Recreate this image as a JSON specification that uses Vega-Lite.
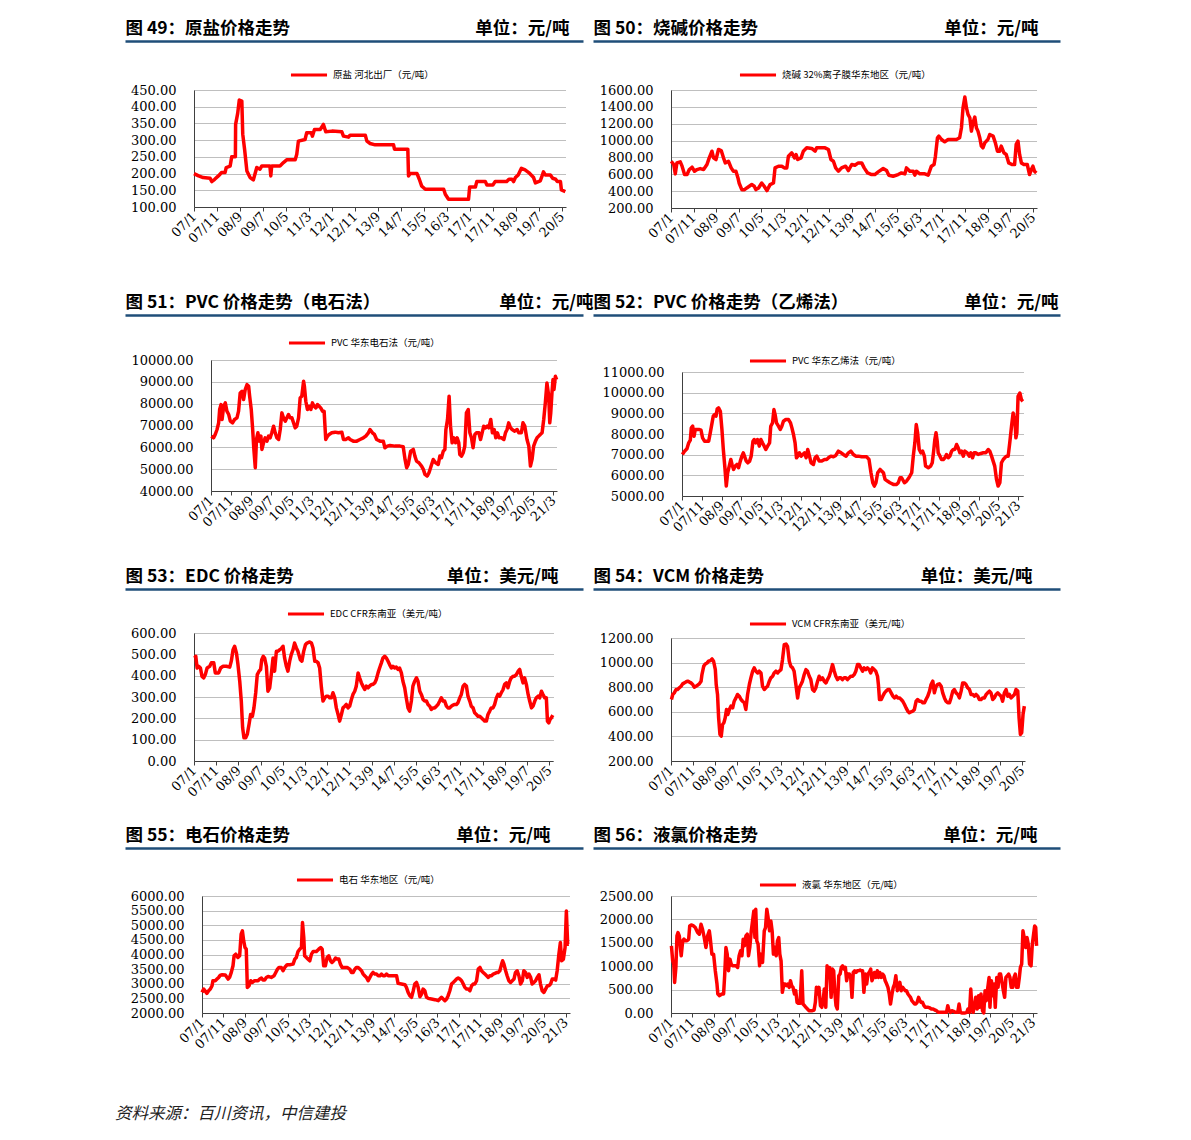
{
  "$schema": "https://vega.github.io/schema/vega-lite/v6.json",
  "background": "white",
  "padding": {"left": 115, "top": 19, "right": 5, "bottom": 5},
  "columns": 2,
  "align": "each",
  "bounds": "flush",
  "spacing": {"row": 0, "column": 10},
  "resolve": {"scale": {"color": "independent"}, "legend": {"color": "independent"}},
  "title": {"text": "资料来源：百川资讯，中信建投", "orient": "bottom", "anchor": "start", "frame": "group", "dx": -10, "offset": 55, "baseline": "top", "font": "Noto Sans CJK SC", "fontSize": 16.5, "fontWeight": "normal", "fontStyle": "italic", "color": "#222222"},
  "datasets": {
    "p49": [{"m":0,"v":200},{"m":2,"v":193},{"m":4,"v":188},{"m":7,"v":186},{"m":7.7,"v":176},{"m":9,"v":183},{"m":10.6,"v":193},{"m":12,"v":203},{"m":13.5,"v":203},{"m":14,"v":218},{"m":15.7,"v":222},{"m":16.4,"v":250},{"m":18,"v":250},{"m":18.1,"v":347},{"m":19,"v":380},{"m":19.7,"v":420},{"m":20.8,"v":417},{"m":21.2,"v":318},{"m":22,"v":273},{"m":23,"v":208},{"m":24.4,"v":188},{"m":25.8,"v":181},{"m":27.3,"v":218},{"m":28.7,"v":213},{"m":29.5,"v":223},{"m":33,"v":223},{"m":33.4,"v":193},{"m":33.8,"v":223},{"m":37.4,"v":223},{"m":38.9,"v":233},{"m":40.3,"v":241},{"m":44,"v":241},{"m":44.7,"v":258},{"m":45.4,"v":297},{"m":48.3,"v":302},{"m":49,"v":322},{"m":51,"v":322},{"m":51.5,"v":312},{"m":52.4,"v":332},{"m":54.9,"v":332},{"m":56.3,"v":347},{"m":57.3,"v":325},{"m":60,"v":327},{"m":64.3,"v":325},{"m":65,"v":312},{"m":67.2,"v":309},{"m":67.9,"v":315},{"m":74.5,"v":315},{"m":75.2,"v":297},{"m":76.6,"v":290},{"m":78.8,"v":286},{"m":86.8,"v":286},{"m":87.2,"v":273},{"m":93,"v":273},{"m":93.3,"v":193},{"m":94,"v":200},{"m":97,"v":200},{"m":98,"v":183},{"m":99,"v":163},{"m":100.6,"v":153},{"m":108.6,"v":153},{"m":109.3,"v":138},{"m":110.7,"v":123},{"m":119.4,"v":123},{"m":119.9,"v":160},{"m":122.4,"v":160},{"m":123,"v":176},{"m":126.7,"v":176},{"m":127.4,"v":166},{"m":130,"v":166},{"m":131,"v":176},{"m":136,"v":176},{"m":137,"v":183},{"m":138.3,"v":183},{"m":139,"v":176},{"m":139.8,"v":188},{"m":141,"v":196},{"m":142.4,"v":216},{"m":144,"v":211},{"m":145.6,"v":203},{"m":147.7,"v":188},{"m":148.5,"v":172},{"m":150.6,"v":178},{"m":151.4,"v":193},{"m":152,"v":205},{"m":152.8,"v":196},{"m":155,"v":196},{"m":156,"v":186},{"m":157.3,"v":183},{"m":158,"v":176},{"m":159.4,"v":176},{"m":159.8,"v":151},{"m":161.5,"v":146}],
    "p50": [{"m":0.1,"v":755},{"m":1.2,"v":716},{"m":1.9,"v":605},{"m":2.6,"v":735},{"m":4.1,"v":747},{"m":4.9,"v":696},{"m":6.0,"v":597},{"m":7.1,"v":597},{"m":8.1,"v":656},{"m":9.3,"v":684},{"m":10.4,"v":636},{"m":11.5,"v":656},{"m":12.9,"v":668},{"m":14.4,"v":656},{"m":15.9,"v":716},{"m":16.9,"v":795},{"m":18.1,"v":874},{"m":18.8,"v":795},{"m":19.9,"v":775},{"m":21.0,"v":894},{"m":22.2,"v":882},{"m":23.2,"v":795},{"m":24.0,"v":735},{"m":25.4,"v":755},{"m":26.6,"v":676},{"m":27.6,"v":636},{"m":28.7,"v":636},{"m":29.6,"v":557},{"m":30.1,"v":497},{"m":31.3,"v":418},{"m":32.5,"v":418},{"m":33.5,"v":438},{"m":34.6,"v":458},{"m":35.7,"v":478},{"m":36.8,"v":458},{"m":37.5,"v":418},{"m":38.7,"v":438},{"m":40.1,"v":497},{"m":41.2,"v":458},{"m":42.4,"v":406},{"m":43.8,"v":478},{"m":45.3,"v":497},{"m":46.0,"v":676},{"m":47.5,"v":696},{"m":49.0,"v":696},{"m":50.1,"v":676},{"m":51.2,"v":676},{"m":51.9,"v":815},{"m":53.4,"v":854},{"m":54.6,"v":795},{"m":55.3,"v":835},{"m":56.0,"v":775},{"m":57.5,"v":795},{"m":58.5,"v":874},{"m":60.0,"v":914},{"m":62.2,"v":906},{"m":63.7,"v":874},{"m":64.4,"v":914},{"m":68.1,"v":914},{"m":69.6,"v":894},{"m":70.7,"v":775},{"m":71.8,"v":755},{"m":72.8,"v":676},{"m":74.0,"v":636},{"m":75.4,"v":676},{"m":77.2,"v":696},{"m":78.4,"v":644},{"m":79.9,"v":716},{"m":81.3,"v":708},{"m":82.8,"v":735},{"m":84.3,"v":735},{"m":85.4,"v":676},{"m":86.9,"v":616},{"m":88.7,"v":597},{"m":90.1,"v":597},{"m":91.6,"v":628},{"m":93.8,"v":668},{"m":95.3,"v":644},{"m":96.3,"v":589},{"m":98.2,"v":577},{"m":100.4,"v":597},{"m":101.9,"v":616},{"m":103.4,"v":605},{"m":104.1,"v":676},{"m":105.6,"v":636},{"m":107.1,"v":636},{"m":107.8,"v":589},{"m":108.5,"v":636},{"m":110.0,"v":605},{"m":112.2,"v":605},{"m":113.7,"v":589},{"m":115.1,"v":696},{"m":116.3,"v":716},{"m":116.9,"v":815},{"m":117.8,"v":1033},{"m":118.4,"v":1053},{"m":119.6,"v":1013},{"m":121.0,"v":985},{"m":122.5,"v":1013},{"m":124.0,"v":1013},{"m":126.2,"v":1013},{"m":127.6,"v":1033},{"m":128.4,"v":1152},{"m":129.1,"v":1390},{"m":129.9,"v":1517},{"m":130.6,"v":1390},{"m":131.3,"v":1310},{"m":132.1,"v":1271},{"m":132.8,"v":1112},{"m":133.5,"v":1211},{"m":134.3,"v":1279},{"m":135.0,"v":1152},{"m":135.7,"v":1112},{"m":136.5,"v":1033},{"m":137.2,"v":934},{"m":137.9,"v":914},{"m":138.7,"v":973},{"m":140.1,"v":1013},{"m":140.9,"v":1072},{"m":142.4,"v":1053},{"m":143.4,"v":973},{"m":144.3,"v":874},{"m":145.3,"v":874},{"m":146.0,"v":934},{"m":147.2,"v":855},{"m":148.2,"v":835},{"m":149.3,"v":735},{"m":150.7,"v":716},{"m":151.9,"v":716},{"m":152.6,"v":954},{"m":153.4,"v":993},{"m":154.1,"v":835},{"m":154.9,"v":735},{"m":156.0,"v":716},{"m":157.5,"v":716},{"m":158.5,"v":597},{"m":159.3,"v":656},{"m":160.0,"v":696},{"m":160.7,"v":636},{"m":161.5,"v":616}],
    "p51": [{"m":0.2,"v":6512},{"m":1.3,"v":6436},{"m":2.1,"v":6589},{"m":3.0,"v":6817},{"m":3.8,"v":7122},{"m":4.3,"v":7731},{"m":5.0,"v":7959},{"m":5.5,"v":7274},{"m":6.3,"v":7883},{"m":7.1,"v":8035},{"m":7.9,"v":7655},{"m":8.8,"v":7502},{"m":9.6,"v":7198},{"m":10.7,"v":7122},{"m":11.7,"v":7274},{"m":12.9,"v":7350},{"m":13.7,"v":7655},{"m":14.5,"v":8492},{"m":15.4,"v":8568},{"m":16.2,"v":8188},{"m":17.0,"v":8645},{"m":17.9,"v":8873},{"m":18.7,"v":8797},{"m":19.2,"v":8340},{"m":20.0,"v":7731},{"m":20.7,"v":6817},{"m":21.3,"v":5903},{"m":22.0,"v":5066},{"m":22.6,"v":6360},{"m":23.3,"v":6665},{"m":24.0,"v":6284},{"m":24.8,"v":6512},{"m":25.3,"v":5903},{"m":26.1,"v":6208},{"m":26.9,"v":6436},{"m":27.8,"v":6284},{"m":28.6,"v":6512},{"m":29.4,"v":6436},{"m":30.2,"v":6665},{"m":31.1,"v":6969},{"m":31.9,"v":6665},{"m":32.7,"v":6436},{"m":33.6,"v":6360},{"m":34.4,"v":6817},{"m":35.2,"v":7578},{"m":36.0,"v":7350},{"m":36.9,"v":7198},{"m":37.7,"v":7350},{"m":38.5,"v":7502},{"m":39.3,"v":7350},{"m":40.2,"v":7350},{"m":41.0,"v":7122},{"m":41.8,"v":6893},{"m":42.6,"v":6969},{"m":43.5,"v":7350},{"m":44.3,"v":8264},{"m":45.1,"v":8340},{"m":46.0,"v":9025},{"m":46.4,"v":8797},{"m":47.1,"v":8112},{"m":47.9,"v":7731},{"m":48.8,"v":7883},{"m":49.6,"v":7731},{"m":50.4,"v":8035},{"m":51.2,"v":7883},{"m":52.1,"v":7807},{"m":52.9,"v":7959},{"m":53.7,"v":7883},{"m":54.5,"v":7807},{"m":55.4,"v":7655},{"m":56.2,"v":7655},{"m":57.0,"v":6360},{"m":57.9,"v":6512},{"m":58.7,"v":6589},{"m":60.0,"v":6665},{"m":61.7,"v":6695},{"m":63.3,"v":6665},{"m":65.0,"v":6695},{"m":65.8,"v":6360},{"m":66.9,"v":6360},{"m":68.3,"v":6436},{"m":69.1,"v":6360},{"m":70.7,"v":6284},{"m":72.4,"v":6284},{"m":74.0,"v":6360},{"m":75.7,"v":6436},{"m":76.9,"v":6512},{"m":78.2,"v":6665},{"m":79.0,"v":6817},{"m":80.2,"v":6665},{"m":81.2,"v":6589},{"m":82.3,"v":6360},{"m":84.0,"v":6284},{"m":85.6,"v":6284},{"m":86.4,"v":5979},{"m":87.6,"v":6056},{"m":88.9,"v":6086},{"m":91.4,"v":6056},{"m":93.9,"v":6056},{"m":95.5,"v":6025},{"m":96.4,"v":5446},{"m":97.2,"v":5066},{"m":98.0,"v":5218},{"m":99.2,"v":5827},{"m":100.5,"v":5903},{"m":101.3,"v":5599},{"m":102.1,"v":5370},{"m":103.3,"v":5294},{"m":104.6,"v":5142},{"m":105.5,"v":4989},{"m":106.3,"v":4761},{"m":107.4,"v":4685},{"m":108.3,"v":4837},{"m":109.1,"v":5066},{"m":110.4,"v":5446},{"m":111.6,"v":5294},{"m":112.9,"v":5218},{"m":113.7,"v":5599},{"m":114.5,"v":5523},{"m":115.4,"v":5827},{"m":116.2,"v":5903},{"m":116.7,"v":6817},{"m":117.5,"v":7274},{"m":118.3,"v":8340},{"m":119.0,"v":6969},{"m":119.8,"v":6208},{"m":120.7,"v":6436},{"m":121.5,"v":6208},{"m":122.3,"v":6436},{"m":123.1,"v":6208},{"m":123.6,"v":5675},{"m":124.5,"v":5599},{"m":125.3,"v":5751},{"m":126.1,"v":6056},{"m":126.9,"v":7578},{"m":127.8,"v":7731},{"m":128.6,"v":6665},{"m":129.4,"v":6436},{"m":130.2,"v":5979},{"m":131.1,"v":6589},{"m":131.9,"v":6665},{"m":133.1,"v":6665},{"m":133.9,"v":6360},{"m":134.7,"v":6665},{"m":135.5,"v":6969},{"m":136.4,"v":6893},{"m":137.2,"v":6969},{"m":138.0,"v":6893},{"m":139.0,"v":7274},{"m":139.8,"v":6665},{"m":140.7,"v":6817},{"m":141.5,"v":6436},{"m":142.3,"v":6665},{"m":143.1,"v":6436},{"m":144.3,"v":6436},{"m":145.5,"v":6360},{"m":146.3,"v":6665},{"m":147.1,"v":6817},{"m":147.9,"v":7122},{"m":148.8,"v":6893},{"m":149.6,"v":6817},{"m":150.9,"v":6741},{"m":152.1,"v":6817},{"m":152.9,"v":6665},{"m":154.2,"v":6665},{"m":155.0,"v":7122},{"m":155.9,"v":6969},{"m":157.0,"v":6360},{"m":157.9,"v":6056},{"m":158.7,"v":5142},{"m":159.5,"v":5446},{"m":160.3,"v":6056},{"m":161.2,"v":6284},{"m":162.0,"v":6436},{"m":162.8,"v":6512},{"m":163.6,"v":6589},{"m":164.5,"v":6665},{"m":165.3,"v":7274},{"m":166.1,"v":8035},{"m":166.9,"v":8949},{"m":167.8,"v":8340},{"m":168.3,"v":7122},{"m":168.8,"v":7578},{"m":169.4,"v":8492},{"m":169.9,"v":9101},{"m":170.4,"v":8645},{"m":171.1,"v":9254},{"m":171.7,"v":9101}],
    "p52": [{"m":0.2,"v":7010},{"m":1.3,"v":7171},{"m":2.5,"v":7283},{"m":3.4,"v":7573},{"m":4.2,"v":7702},{"m":4.7,"v":8297},{"m":5.4,"v":8377},{"m":6.1,"v":7895},{"m":6.7,"v":8217},{"m":7.7,"v":8217},{"m":8.8,"v":8217},{"m":9.6,"v":8184},{"m":10.4,"v":7814},{"m":11.4,"v":7653},{"m":12.5,"v":7653},{"m":13.5,"v":7653},{"m":14.3,"v":8056},{"m":15.2,"v":8538},{"m":15.8,"v":8860},{"m":16.5,"v":8941},{"m":17.2,"v":8860},{"m":17.8,"v":9214},{"m":18.5,"v":9262},{"m":19.4,"v":9101},{"m":20.2,"v":8217},{"m":20.9,"v":7251},{"m":21.7,"v":6366},{"m":22.4,"v":5481},{"m":23.1,"v":6125},{"m":23.9,"v":6446},{"m":24.7,"v":6768},{"m":25.3,"v":6527},{"m":26.1,"v":6286},{"m":26.9,"v":6446},{"m":27.8,"v":6527},{"m":28.6,"v":6366},{"m":29.5,"v":6688},{"m":30.3,"v":6929},{"m":31.0,"v":7090},{"m":31.6,"v":6929},{"m":32.5,"v":6688},{"m":33.3,"v":6607},{"m":34.2,"v":6688},{"m":35.0,"v":6929},{"m":35.9,"v":7653},{"m":36.5,"v":7734},{"m":37.4,"v":7573},{"m":38.2,"v":7734},{"m":39.1,"v":7412},{"m":39.9,"v":7734},{"m":40.7,"v":7573},{"m":41.6,"v":7412},{"m":42.4,"v":7251},{"m":43.3,"v":7412},{"m":44.3,"v":7573},{"m":44.9,"v":8377},{"m":45.8,"v":8538},{"m":46.5,"v":9182},{"m":47.1,"v":8941},{"m":47.8,"v":8538},{"m":48.8,"v":8377},{"m":49.7,"v":8217},{"m":50.5,"v":8377},{"m":51.3,"v":8619},{"m":52.5,"v":8699},{"m":53.9,"v":8699},{"m":54.9,"v":8538},{"m":55.6,"v":8297},{"m":56.4,"v":7975},{"m":57.2,"v":7573},{"m":57.9,"v":6849},{"m":58.6,"v":6929},{"m":59.4,"v":7090},{"m":60.3,"v":6929},{"m":61.1,"v":7010},{"m":62.0,"v":7090},{"m":62.8,"v":6849},{"m":63.6,"v":7251},{"m":64.5,"v":6929},{"m":65.3,"v":6607},{"m":66.5,"v":6527},{"m":67.3,"v":6849},{"m":68.2,"v":6929},{"m":69.4,"v":6688},{"m":70.7,"v":6688},{"m":72.1,"v":6768},{"m":73.2,"v":6768},{"m":74.1,"v":6849},{"m":75.3,"v":6929},{"m":76.6,"v":6897},{"m":77.8,"v":6961},{"m":79.1,"v":7171},{"m":80.5,"v":7090},{"m":81.6,"v":7010},{"m":83.0,"v":6929},{"m":84.2,"v":7090},{"m":85.4,"v":7171},{"m":86.7,"v":7010},{"m":87.9,"v":6929},{"m":89.2,"v":6929},{"m":90.9,"v":6897},{"m":93.4,"v":6897},{"m":94.6,"v":6768},{"m":95.6,"v":6125},{"m":96.5,"v":5642},{"m":97.3,"v":5481},{"m":98.1,"v":5642},{"m":99.0,"v":6125},{"m":100.2,"v":6286},{"m":101.0,"v":6205},{"m":101.9,"v":6125},{"m":102.7,"v":5803},{"m":103.9,"v":5722},{"m":105.2,"v":5642},{"m":106.9,"v":5562},{"m":108.6,"v":5562},{"m":109.4,"v":5642},{"m":110.3,"v":5883},{"m":111.1,"v":5883},{"m":112.5,"v":5642},{"m":113.6,"v":5722},{"m":114.8,"v":5883},{"m":116.2,"v":6125},{"m":117.0,"v":6929},{"m":117.8,"v":7573},{"m":118.5,"v":8458},{"m":119.2,"v":8056},{"m":120.0,"v":7251},{"m":120.9,"v":7090},{"m":121.7,"v":7171},{"m":122.6,"v":6929},{"m":123.2,"v":6446},{"m":124.6,"v":6366},{"m":125.8,"v":6446},{"m":126.6,"v":6607},{"m":127.3,"v":7171},{"m":127.9,"v":7734},{"m":128.5,"v":8056},{"m":129.1,"v":7653},{"m":129.6,"v":7090},{"m":130.5,"v":6929},{"m":131.3,"v":6768},{"m":132.2,"v":6768},{"m":133.0,"v":6849},{"m":133.8,"v":7010},{"m":134.7,"v":6849},{"m":135.5,"v":6929},{"m":136.4,"v":7171},{"m":137.2,"v":7251},{"m":138.0,"v":7251},{"m":138.9,"v":7493},{"m":139.7,"v":7332},{"m":140.6,"v":7090},{"m":141.4,"v":7171},{"m":142.3,"v":6929},{"m":143.1,"v":7171},{"m":144.3,"v":7090},{"m":145.3,"v":6929},{"m":146.1,"v":7090},{"m":147.0,"v":6849},{"m":147.8,"v":7090},{"m":148.7,"v":7090},{"m":149.8,"v":7010},{"m":151.2,"v":7058},{"m":152.4,"v":7090},{"m":153.7,"v":7090},{"m":154.9,"v":7251},{"m":155.7,"v":7171},{"m":156.6,"v":6929},{"m":157.4,"v":6688},{"m":158.2,"v":6446},{"m":159.1,"v":5803},{"m":159.9,"v":5481},{"m":160.8,"v":5642},{"m":161.6,"v":6607},{"m":162.5,"v":6768},{"m":163.3,"v":6849},{"m":164.1,"v":6929},{"m":165.0,"v":6929},{"m":165.8,"v":7573},{"m":166.7,"v":8377},{"m":167.5,"v":9021},{"m":168.4,"v":8699},{"m":168.9,"v":7814},{"m":169.4,"v":8056},{"m":170.0,"v":9825},{"m":170.9,"v":9986},{"m":171.7,"v":9664},{"m":172.4,"v":9584}],
    "p53": [{"m":0.3,"v":483},{"m":0.8,"v":491},{"m":1.4,"v":436},{"m":2.1,"v":444},{"m":2.9,"v":436},{"m":3.6,"v":397},{"m":4.4,"v":390},{"m":5.1,"v":405},{"m":5.9,"v":436},{"m":7.1,"v":444},{"m":7.8,"v":460},{"m":8.9,"v":460},{"m":9.6,"v":413},{"m":10.4,"v":413},{"m":11.1,"v":413},{"m":12.0,"v":436},{"m":13.1,"v":444},{"m":14.6,"v":444},{"m":16.1,"v":440},{"m":16.8,"v":468},{"m":17.6,"v":522},{"m":18.3,"v":538},{"m":19.1,"v":507},{"m":19.8,"v":452},{"m":20.6,"v":374},{"m":21.3,"v":281},{"m":21.9,"v":156},{"m":22.5,"v":109},{"m":23.3,"v":109},{"m":24.0,"v":125},{"m":24.8,"v":172},{"m":25.5,"v":218},{"m":26.3,"v":210},{"m":27.0,"v":249},{"m":27.8,"v":320},{"m":28.5,"v":405},{"m":29.3,"v":421},{"m":30.0,"v":429},{"m":30.5,"v":475},{"m":31.2,"v":491},{"m":31.8,"v":483},{"m":32.6,"v":444},{"m":33.3,"v":327},{"m":34.1,"v":343},{"m":34.8,"v":405},{"m":35.6,"v":483},{"m":36.3,"v":421},{"m":37.1,"v":514},{"m":37.8,"v":514},{"m":38.6,"v":522},{"m":39.3,"v":527},{"m":40.1,"v":538},{"m":40.8,"v":483},{"m":41.6,"v":444},{"m":42.3,"v":421},{"m":43.1,"v":468},{"m":43.8,"v":499},{"m":44.6,"v":522},{"m":45.3,"v":553},{"m":46.1,"v":530},{"m":46.8,"v":514},{"m":47.9,"v":475},{"m":48.6,"v":468},{"m":49.4,"v":514},{"m":50.2,"v":545},{"m":50.9,"v":553},{"m":52.1,"v":558},{"m":52.9,"v":553},{"m":53.6,"v":530},{"m":54.4,"v":468},{"m":55.1,"v":468},{"m":55.9,"v":460},{"m":56.6,"v":436},{"m":57.4,"v":343},{"m":58.1,"v":281},{"m":58.9,"v":296},{"m":59.6,"v":304},{"m":60.4,"v":304},{"m":61.1,"v":296},{"m":61.9,"v":296},{"m":62.6,"v":320},{"m":63.4,"v":296},{"m":64.1,"v":249},{"m":64.9,"v":218},{"m":65.6,"v":187},{"m":66.4,"v":218},{"m":67.1,"v":249},{"m":67.9,"v":257},{"m":68.6,"v":265},{"m":69.4,"v":249},{"m":70.1,"v":257},{"m":70.9,"v":288},{"m":71.6,"v":312},{"m":72.4,"v":327},{"m":73.1,"v":351},{"m":73.9,"v":413},{"m":74.6,"v":390},{"m":75.4,"v":366},{"m":76.1,"v":351},{"m":76.9,"v":335},{"m":77.6,"v":351},{"m":78.4,"v":343},{"m":79.1,"v":351},{"m":79.9,"v":359},{"m":80.6,"v":359},{"m":81.4,"v":366},{"m":82.1,"v":382},{"m":82.9,"v":413},{"m":83.6,"v":436},{"m":84.4,"v":460},{"m":85.1,"v":483},{"m":85.9,"v":491},{"m":86.6,"v":483},{"m":87.4,"v":468},{"m":88.1,"v":452},{"m":88.9,"v":436},{"m":89.6,"v":444},{"m":90.4,"v":436},{"m":91.1,"v":440},{"m":91.9,"v":429},{"m":92.6,"v":436},{"m":93.4,"v":413},{"m":94.1,"v":374},{"m":94.9,"v":343},{"m":95.6,"v":296},{"m":96.4,"v":249},{"m":97.1,"v":234},{"m":97.9,"v":281},{"m":98.6,"v":351},{"m":99.4,"v":374},{"m":100.2,"v":390},{"m":100.9,"v":374},{"m":101.7,"v":327},{"m":102.4,"v":312},{"m":103.2,"v":288},{"m":103.9,"v":281},{"m":104.7,"v":281},{"m":105.4,"v":265},{"m":106.2,"v":257},{"m":106.9,"v":242},{"m":107.7,"v":249},{"m":108.4,"v":249},{"m":109.2,"v":257},{"m":109.9,"v":265},{"m":110.7,"v":281},{"m":111.4,"v":296},{"m":112.2,"v":281},{"m":112.9,"v":281},{"m":113.7,"v":257},{"m":114.4,"v":249},{"m":115.2,"v":249},{"m":115.9,"v":257},{"m":116.7,"v":262},{"m":117.4,"v":265},{"m":118.2,"v":265},{"m":118.9,"v":273},{"m":119.7,"v":296},{"m":120.4,"v":312},{"m":121.2,"v":351},{"m":121.9,"v":359},{"m":122.7,"v":351},{"m":123.4,"v":304},{"m":124.2,"v":281},{"m":124.9,"v":257},{"m":125.7,"v":249},{"m":126.4,"v":226},{"m":127.2,"v":218},{"m":127.9,"v":210},{"m":128.7,"v":210},{"m":129.4,"v":203},{"m":130.2,"v":195},{"m":130.9,"v":187},{"m":131.7,"v":187},{"m":132.4,"v":218},{"m":133.2,"v":234},{"m":133.9,"v":249},{"m":134.7,"v":249},{"m":135.4,"v":265},{"m":136.2,"v":296},{"m":136.9,"v":312},{"m":137.7,"v":304},{"m":138.4,"v":320},{"m":139.2,"v":335},{"m":139.9,"v":359},{"m":140.7,"v":366},{"m":141.4,"v":343},{"m":142.2,"v":374},{"m":142.9,"v":390},{"m":143.7,"v":397},{"m":144.4,"v":397},{"m":145.2,"v":405},{"m":146.0,"v":421},{"m":146.7,"v":429},{"m":147.4,"v":397},{"m":148.2,"v":366},{"m":148.9,"v":390},{"m":149.7,"v":359},{"m":150.5,"v":312},{"m":151.2,"v":281},{"m":152.0,"v":249},{"m":152.7,"v":257},{"m":153.5,"v":281},{"m":154.2,"v":296},{"m":155.0,"v":304},{"m":155.7,"v":296},{"m":156.5,"v":327},{"m":157.2,"v":312},{"m":158.0,"v":296},{"m":158.7,"v":296},{"m":159.2,"v":187},{"m":159.8,"v":179},{"m":160.4,"v":195},{"m":161.0,"v":203},{"m":161.6,"v":215}],
    "p54": [{"m":0.2,"v":700},{"m":0.8,"v":741},{"m":1.5,"v":754},{"m":2.3,"v":781},{"m":3.0,"v":781},{"m":3.8,"v":795},{"m":4.6,"v":808},{"m":5.3,"v":827},{"m":6.1,"v":835},{"m":6.8,"v":843},{"m":7.6,"v":849},{"m":8.3,"v":843},{"m":9.1,"v":835},{"m":9.9,"v":822},{"m":10.6,"v":800},{"m":11.4,"v":808},{"m":12.1,"v":816},{"m":12.9,"v":827},{"m":13.7,"v":849},{"m":14.1,"v":903},{"m":14.9,"v":970},{"m":15.6,"v":989},{"m":16.4,"v":997},{"m":17.1,"v":1011},{"m":17.9,"v":1016},{"m":18.7,"v":1030},{"m":19.4,"v":1011},{"m":20.2,"v":943},{"m":20.6,"v":822},{"m":21.2,"v":741},{"m":21.7,"v":551},{"m":22.3,"v":416},{"m":22.9,"v":403},{"m":23.5,"v":497},{"m":24.1,"v":511},{"m":24.7,"v":551},{"m":25.3,"v":619},{"m":25.9,"v":578},{"m":26.6,"v":619},{"m":27.3,"v":646},{"m":28.1,"v":632},{"m":28.8,"v":686},{"m":29.6,"v":713},{"m":30.3,"v":741},{"m":31.1,"v":727},{"m":31.9,"v":700},{"m":32.6,"v":686},{"m":33.4,"v":673},{"m":34.1,"v":619},{"m":34.9,"v":741},{"m":35.7,"v":822},{"m":36.4,"v":876},{"m":37.2,"v":930},{"m":37.9,"v":957},{"m":38.7,"v":930},{"m":39.5,"v":916},{"m":40.2,"v":930},{"m":41.0,"v":916},{"m":41.7,"v":808},{"m":42.5,"v":781},{"m":43.2,"v":795},{"m":44.0,"v":808},{"m":44.8,"v":849},{"m":45.5,"v":876},{"m":46.3,"v":889},{"m":47.0,"v":916},{"m":47.8,"v":930},{"m":48.6,"v":916},{"m":49.3,"v":930},{"m":50.1,"v":943},{"m":50.8,"v":1024},{"m":51.6,"v":1146},{"m":52.4,"v":1151},{"m":53.1,"v":1132},{"m":53.9,"v":1011},{"m":54.6,"v":970},{"m":55.4,"v":957},{"m":56.1,"v":930},{"m":56.9,"v":822},{"m":57.7,"v":713},{"m":58.4,"v":795},{"m":59.2,"v":822},{"m":59.9,"v":849},{"m":60.7,"v":903},{"m":61.5,"v":943},{"m":62.2,"v":930},{"m":63.0,"v":889},{"m":63.7,"v":862},{"m":64.5,"v":781},{"m":65.2,"v":768},{"m":66.0,"v":795},{"m":66.8,"v":849},{"m":67.5,"v":889},{"m":68.3,"v":862},{"m":69.0,"v":876},{"m":69.8,"v":849},{"m":70.6,"v":835},{"m":71.3,"v":862},{"m":72.1,"v":889},{"m":72.8,"v":930},{"m":73.6,"v":984},{"m":74.4,"v":930},{"m":75.1,"v":889},{"m":75.9,"v":862},{"m":76.6,"v":876},{"m":77.4,"v":876},{"m":78.1,"v":862},{"m":78.9,"v":876},{"m":79.7,"v":876},{"m":80.4,"v":862},{"m":81.2,"v":876},{"m":81.9,"v":889},{"m":82.7,"v":889},{"m":83.5,"v":903},{"m":84.2,"v":930},{"m":85.0,"v":984},{"m":85.7,"v":984},{"m":86.5,"v":957},{"m":87.3,"v":930},{"m":88.0,"v":957},{"m":88.8,"v":943},{"m":89.5,"v":957},{"m":90.3,"v":943},{"m":91.0,"v":916},{"m":91.8,"v":957},{"m":92.6,"v":943},{"m":93.3,"v":930},{"m":94.1,"v":889},{"m":94.5,"v":822},{"m":95.0,"v":700},{"m":95.8,"v":700},{"m":96.5,"v":727},{"m":97.3,"v":754},{"m":98.0,"v":768},{"m":98.8,"v":781},{"m":99.5,"v":781},{"m":100.3,"v":754},{"m":101.1,"v":727},{"m":101.8,"v":713},{"m":102.6,"v":727},{"m":103.3,"v":713},{"m":104.1,"v":713},{"m":104.9,"v":700},{"m":105.6,"v":686},{"m":106.4,"v":659},{"m":107.1,"v":632},{"m":107.9,"v":605},{"m":108.6,"v":592},{"m":109.4,"v":600},{"m":110.2,"v":605},{"m":110.9,"v":619},{"m":111.7,"v":686},{"m":112.4,"v":700},{"m":113.2,"v":686},{"m":114.0,"v":686},{"m":114.7,"v":673},{"m":115.5,"v":673},{"m":116.2,"v":700},{"m":117.0,"v":727},{"m":117.8,"v":768},{"m":118.5,"v":822},{"m":119.3,"v":849},{"m":120.0,"v":754},{"m":120.8,"v":808},{"m":121.5,"v":822},{"m":122.3,"v":827},{"m":123.1,"v":808},{"m":123.8,"v":754},{"m":124.6,"v":713},{"m":125.3,"v":686},{"m":126.1,"v":673},{"m":126.9,"v":673},{"m":127.6,"v":713},{"m":128.4,"v":768},{"m":129.1,"v":781},{"m":129.9,"v":754},{"m":130.7,"v":741},{"m":131.4,"v":713},{"m":132.2,"v":768},{"m":132.9,"v":835},{"m":133.7,"v":835},{"m":134.4,"v":822},{"m":135.2,"v":795},{"m":136.0,"v":781},{"m":136.7,"v":741},{"m":137.5,"v":741},{"m":138.2,"v":727},{"m":139.0,"v":741},{"m":139.8,"v":727},{"m":140.5,"v":700},{"m":141.3,"v":700},{"m":142.0,"v":713},{"m":142.8,"v":713},{"m":143.6,"v":741},{"m":144.3,"v":754},{"m":145.1,"v":768},{"m":145.8,"v":754},{"m":146.6,"v":700},{"m":147.3,"v":713},{"m":148.1,"v":741},{"m":148.9,"v":754},{"m":149.6,"v":741},{"m":150.4,"v":727},{"m":151.1,"v":686},{"m":151.9,"v":754},{"m":152.7,"v":781},{"m":153.4,"v":727},{"m":154.2,"v":741},{"m":154.9,"v":713},{"m":155.7,"v":727},{"m":156.5,"v":741},{"m":157.2,"v":781},{"m":158.0,"v":768},{"m":158.6,"v":551},{"m":159.2,"v":416},{"m":159.8,"v":430},{"m":160.4,"v":578},{"m":161.0,"v":646}],
    "p55": [{"m":0,"v":2705},{"m":0.8,"v":2818},{"m":1.6,"v":2739},{"m":2.3,"v":2671},{"m":3.1,"v":2762},{"m":3.9,"v":2818},{"m":4.7,"v":2932},{"m":5.1,"v":3103},{"m":6.2,"v":3103},{"m":7.0,"v":3160},{"m":7.8,"v":3217},{"m":8.6,"v":3296},{"m":9.4,"v":3308},{"m":10.9,"v":3296},{"m":12.2,"v":3160},{"m":12.9,"v":3217},{"m":13.7,"v":3387},{"m":14.5,"v":3614},{"m":15.0,"v":3955},{"m":15.8,"v":4012},{"m":16.8,"v":3898},{"m":17.6,"v":3955},{"m":18.3,"v":4694},{"m":18.9,"v":4807},{"m":19.5,"v":4466},{"m":20.1,"v":4239},{"m":20.7,"v":4182},{"m":21.2,"v":2876},{"m":22.0,"v":2932},{"m":22.8,"v":3103},{"m":23.6,"v":3046},{"m":24.6,"v":3103},{"m":26.2,"v":3103},{"m":27.0,"v":3160},{"m":27.8,"v":3194},{"m":28.5,"v":3126},{"m":29.3,"v":3126},{"m":30.1,"v":3217},{"m":30.9,"v":3251},{"m":32.4,"v":3217},{"m":33.7,"v":3274},{"m":34.5,"v":3387},{"m":35.3,"v":3501},{"m":36.0,"v":3558},{"m":37.1,"v":3558},{"m":37.9,"v":3444},{"m":38.7,"v":3558},{"m":39.8,"v":3649},{"m":41.0,"v":3649},{"m":42.6,"v":3671},{"m":43.4,"v":3842},{"m":44.1,"v":3898},{"m":44.9,"v":4103},{"m":45.7,"v":4182},{"m":46.5,"v":4239},{"m":47.0,"v":5091},{"m":47.6,"v":4580},{"m":48.0,"v":3955},{"m":48.8,"v":3898},{"m":49.6,"v":3842},{"m":50.4,"v":3785},{"m":51.2,"v":4012},{"m":52.0,"v":4103},{"m":53.5,"v":4103},{"m":54.6,"v":4182},{"m":55.5,"v":4239},{"m":56.2,"v":4182},{"m":56.9,"v":3614},{"m":57.7,"v":3614},{"m":58.5,"v":3898},{"m":59.3,"v":3955},{"m":60.1,"v":3785},{"m":60.8,"v":3728},{"m":61.6,"v":3785},{"m":62.4,"v":3876},{"m":63.2,"v":3842},{"m":64.0,"v":3842},{"m":64.7,"v":3671},{"m":65.5,"v":3558},{"m":66.8,"v":3558},{"m":67.9,"v":3558},{"m":69.1,"v":3501},{"m":69.9,"v":3387},{"m":70.7,"v":3387},{"m":71.5,"v":3501},{"m":72.2,"v":3558},{"m":73.0,"v":3558},{"m":73.8,"v":3501},{"m":74.6,"v":3444},{"m":75.4,"v":3330},{"m":76.1,"v":3274},{"m":76.9,"v":3217},{"m":77.7,"v":3103},{"m":78.5,"v":3217},{"m":79.3,"v":3330},{"m":80.0,"v":3387},{"m":80.8,"v":3330},{"m":81.6,"v":3330},{"m":82.4,"v":3274},{"m":83.2,"v":3274},{"m":83.9,"v":3330},{"m":84.7,"v":3274},{"m":85.5,"v":3274},{"m":86.3,"v":3330},{"m":87.1,"v":3274},{"m":87.8,"v":3274},{"m":88.6,"v":3274},{"m":90.2,"v":3274},{"m":91.0,"v":3274},{"m":91.7,"v":3012},{"m":93.3,"v":2989},{"m":94.9,"v":2967},{"m":95.6,"v":2876},{"m":96.4,"v":2705},{"m":97.2,"v":2592},{"m":98.0,"v":2535},{"m":98.8,"v":2762},{"m":99.5,"v":2989},{"m":100.3,"v":3046},{"m":101.1,"v":2876},{"m":101.9,"v":2558},{"m":102.7,"v":2648},{"m":103.4,"v":2818},{"m":104.2,"v":2762},{"m":105.0,"v":2535},{"m":105.8,"v":2501},{"m":107.3,"v":2478},{"m":108.9,"v":2456},{"m":110.5,"v":2422},{"m":111.2,"v":2478},{"m":112.0,"v":2535},{"m":112.8,"v":2478},{"m":113.6,"v":2422},{"m":114.4,"v":2478},{"m":115.1,"v":2592},{"m":115.9,"v":2762},{"m":116.7,"v":2989},{"m":117.5,"v":3046},{"m":118.3,"v":3103},{"m":119.0,"v":3160},{"m":119.8,"v":3194},{"m":120.6,"v":3160},{"m":121.4,"v":3103},{"m":122.2,"v":2989},{"m":122.9,"v":2876},{"m":123.7,"v":2818},{"m":124.5,"v":2818},{"m":125.3,"v":2762},{"m":126.1,"v":2932},{"m":126.8,"v":2989},{"m":127.6,"v":2989},{"m":128.4,"v":3103},{"m":129.2,"v":3501},{"m":130.0,"v":3558},{"m":130.7,"v":3444},{"m":131.5,"v":3387},{"m":132.3,"v":3330},{"m":133.1,"v":3274},{"m":133.9,"v":3217},{"m":134.6,"v":3274},{"m":135.4,"v":3274},{"m":136.2,"v":3330},{"m":137.0,"v":3353},{"m":137.8,"v":3387},{"m":138.5,"v":3387},{"m":139.3,"v":3444},{"m":140.1,"v":3671},{"m":140.6,"v":3785},{"m":141.2,"v":3671},{"m":142.0,"v":3444},{"m":142.7,"v":3274},{"m":143.5,"v":3103},{"m":144.3,"v":3046},{"m":145.1,"v":3103},{"m":145.9,"v":3160},{"m":146.6,"v":3387},{"m":147.4,"v":3444},{"m":148.2,"v":3274},{"m":149.0,"v":2989},{"m":149.8,"v":3103},{"m":150.5,"v":3444},{"m":151.3,"v":3387},{"m":152.1,"v":3217},{"m":152.9,"v":3330},{"m":153.7,"v":3217},{"m":154.4,"v":2989},{"m":155.2,"v":3046},{"m":156.0,"v":3103},{"m":156.8,"v":3217},{"m":157.6,"v":3308},{"m":158.3,"v":2989},{"m":159.1,"v":2762},{"m":159.9,"v":2705},{"m":160.7,"v":2818},{"m":161.5,"v":2932},{"m":162.2,"v":2932},{"m":163.0,"v":2989},{"m":163.8,"v":3160},{"m":164.6,"v":3160},{"m":165.4,"v":3126},{"m":166.1,"v":3444},{"m":166.9,"v":4012},{"m":167.6,"v":4410},{"m":168.2,"v":3785},{"m":169.0,"v":3842},{"m":169.8,"v":4239},{"m":170.4,"v":5489},{"m":171.0,"v":4353},{"m":171.6,"v":4353}],
    "p56": [{"m":0.2,"v":1435},{"m":0.8,"v":1115},{"m":1.3,"v":1044},{"m":1.7,"v":654},{"m":2.3,"v":974},{"m":2.8,"v":1648},{"m":3.3,"v":1719},{"m":3.9,"v":1648},{"m":4.4,"v":1400},{"m":4.8,"v":1222},{"m":5.5,"v":1542},{"m":6.1,"v":1577},{"m":6.7,"v":1542},{"m":7.5,"v":1542},{"m":8.3,"v":1577},{"m":8.8,"v":1861},{"m":9.5,"v":1882},{"m":10.6,"v":1861},{"m":11.4,"v":1826},{"m":12.5,"v":1719},{"m":13.3,"v":1684},{"m":14.1,"v":1897},{"m":14.8,"v":1790},{"m":15.6,"v":1613},{"m":16.4,"v":1400},{"m":17.2,"v":1648},{"m":18.0,"v":1755},{"m":18.4,"v":1613},{"m":19.2,"v":1258},{"m":20.0,"v":1258},{"m":20.8,"v":903},{"m":21.6,"v":619},{"m":22.0,"v":406},{"m":22.8,"v":370},{"m":23.9,"v":406},{"m":24.7,"v":406},{"m":25.2,"v":796},{"m":25.8,"v":1400},{"m":26.4,"v":1258},{"m":27.0,"v":903},{"m":27.7,"v":1151},{"m":28.3,"v":1044},{"m":28.9,"v":1009},{"m":29.7,"v":1009},{"m":30.5,"v":1009},{"m":31.3,"v":974},{"m":32.0,"v":1222},{"m":32.7,"v":1329},{"m":33.3,"v":1222},{"m":33.9,"v":1577},{"m":34.5,"v":1435},{"m":35.2,"v":1648},{"m":35.8,"v":1684},{"m":36.4,"v":1222},{"m":37.0,"v":1400},{"m":37.7,"v":1755},{"m":38.3,"v":1968},{"m":38.9,"v":2180},{"m":39.4,"v":1613},{"m":39.8,"v":2216},{"m":40.3,"v":1542},{"m":40.9,"v":1471},{"m":41.6,"v":1009},{"m":42.2,"v":1258},{"m":43.0,"v":1080},{"m":43.8,"v":1755},{"m":44.4,"v":1826},{"m":45.0,"v":2216},{"m":45.6,"v":2038},{"m":46.3,"v":1755},{"m":46.9,"v":1968},{"m":47.5,"v":1755},{"m":48.1,"v":1258},{"m":48.8,"v":1400},{"m":49.4,"v":1222},{"m":50.0,"v":1542},{"m":50.6,"v":1613},{"m":51.1,"v":1258},{"m":51.7,"v":1115},{"m":52.3,"v":441},{"m":53.0,"v":619},{"m":53.6,"v":619},{"m":54.2,"v":583},{"m":54.8,"v":619},{"m":55.5,"v":548},{"m":56.1,"v":690},{"m":56.7,"v":583},{"m":57.3,"v":548},{"m":58.0,"v":406},{"m":58.6,"v":477},{"m":59.2,"v":228},{"m":59.8,"v":207},{"m":60.6,"v":207},{"m":61.4,"v":903},{"m":62.0,"v":193},{"m":62.7,"v":157},{"m":63.3,"v":122},{"m":64.1,"v":86},{"m":64.8,"v":50},{"m":65.6,"v":50},{"m":66.4,"v":50},{"m":67.2,"v":64},{"m":67.8,"v":228},{"m":68.3,"v":548},{"m":68.9,"v":406},{"m":69.5,"v":548},{"m":70.2,"v":157},{"m":70.8,"v":122},{"m":71.4,"v":228},{"m":72.0,"v":512},{"m":72.7,"v":122},{"m":73.3,"v":1009},{"m":73.9,"v":760},{"m":74.5,"v":974},{"m":75.2,"v":335},{"m":75.8,"v":938},{"m":76.4,"v":903},{"m":77.0,"v":406},{"m":77.5,"v":157},{"m":78.1,"v":86},{"m":78.8,"v":796},{"m":79.4,"v":832},{"m":80.0,"v":974},{"m":80.6,"v":1009},{"m":81.3,"v":938},{"m":81.9,"v":974},{"m":82.5,"v":690},{"m":83.1,"v":832},{"m":83.8,"v":832},{"m":84.4,"v":760},{"m":85.0,"v":335},{"m":85.6,"v":867},{"m":86.3,"v":903},{"m":86.9,"v":867},{"m":87.5,"v":903},{"m":88.1,"v":903},{"m":88.8,"v":917},{"m":89.4,"v":903},{"m":90.0,"v":903},{"m":90.6,"v":441},{"m":91.3,"v":832},{"m":91.9,"v":619},{"m":92.5,"v":832},{"m":93.1,"v":867},{"m":93.8,"v":938},{"m":94.4,"v":690},{"m":95.0,"v":760},{"m":95.6,"v":867},{"m":96.3,"v":760},{"m":96.9,"v":903},{"m":97.5,"v":760},{"m":98.1,"v":867},{"m":98.8,"v":760},{"m":99.4,"v":832},{"m":100.0,"v":796},{"m":100.6,"v":690},{"m":101.3,"v":619},{"m":101.9,"v":548},{"m":102.5,"v":406},{"m":103.1,"v":193},{"m":103.8,"v":406},{"m":104.4,"v":548},{"m":105.0,"v":619},{"m":105.6,"v":796},{"m":106.3,"v":477},{"m":106.9,"v":548},{"m":107.5,"v":654},{"m":108.1,"v":477},{"m":108.8,"v":548},{"m":109.4,"v":512},{"m":110.0,"v":477},{"m":110.6,"v":477},{"m":111.3,"v":406},{"m":111.9,"v":370},{"m":112.5,"v":335},{"m":113.1,"v":264},{"m":113.8,"v":228},{"m":114.4,"v":193},{"m":115.0,"v":193},{"m":115.6,"v":228},{"m":116.3,"v":335},{"m":116.9,"v":264},{"m":117.5,"v":228},{"m":118.1,"v":228},{"m":118.8,"v":157},{"m":119.4,"v":122},{"m":120.0,"v":122},{"m":120.8,"v":122},{"m":121.6,"v":107},{"m":122.3,"v":86},{"m":123.1,"v":86},{"m":123.9,"v":64},{"m":124.7,"v":50},{"m":125.5,"v":15},{"m":126.3,"v":15},{"m":127.0,"v":15},{"m":127.8,"v":15},{"m":128.6,"v":15},{"m":129.4,"v":15},{"m":130.0,"v":157},{"m":130.6,"v":50},{"m":131.3,"v":15},{"m":131.9,"v":50},{"m":132.7,"v":36},{"m":133.4,"v":15},{"m":134.1,"v":15},{"m":134.7,"v":15},{"m":135.3,"v":193},{"m":135.9,"v":15},{"m":136.6,"v":0},{"m":137.3,"v":0},{"m":138.1,"v":0},{"m":138.9,"v":15},{"m":139.5,"v":86},{"m":140.2,"v":15},{"m":140.8,"v":512},{"m":141.3,"v":122},{"m":141.9,"v":15},{"m":142.5,"v":157},{"m":143.1,"v":335},{"m":143.8,"v":86},{"m":144.4,"v":370},{"m":145.0,"v":122},{"m":145.6,"v":406},{"m":146.3,"v":50},{"m":146.9,"v":0},{"m":147.5,"v":477},{"m":148.1,"v":264},{"m":148.8,"v":548},{"m":149.4,"v":760},{"m":149.8,"v":122},{"m":150.5,"v":690},{"m":151.1,"v":370},{"m":151.7,"v":619},{"m":152.3,"v":122},{"m":153.0,"v":760},{"m":153.6,"v":548},{"m":154.2,"v":832},{"m":154.8,"v":832},{"m":155.5,"v":654},{"m":156.1,"v":477},{"m":156.7,"v":335},{"m":157.3,"v":760},{"m":158.0,"v":796},{"m":158.6,"v":832},{"m":159.2,"v":760},{"m":159.8,"v":548},{"m":160.5,"v":548},{"m":161.1,"v":760},{"m":161.7,"v":832},{"m":162.3,"v":548},{"m":163.0,"v":548},{"m":163.6,"v":760},{"m":164.1,"v":974},{"m":164.7,"v":1044},{"m":165.3,"v":1755},{"m":165.9,"v":1613},{"m":166.6,"v":1400},{"m":167.2,"v":1613},{"m":167.8,"v":1471},{"m":168.4,"v":1044},{"m":169.1,"v":1009},{"m":169.7,"v":1471},{"m":170.2,"v":1648},{"m":170.8,"v":1861},{"m":171.3,"v":1826},{"m":171.7,"v":1435}]
  },
  "concat": [
    {"width": 458, "height": 49, "data": {"values": [{}]}, "mark": {"type": "point", "opacity": 0},
     "encoding": {
       "x": {"datum": 0, "type": "quantitative", "scale": {"domain": [0, 1]}, "axis": {"orient": "top", "labels": false, "ticks": false, "grid": false, "domainColor": "#1f4e79", "domainWidth": 2.5, "title": "单位：元/吨", "titleX": 444, "titleY": -4, "titleAlign": "right", "titleBaseline": "bottom"}},
       "y": {"datum": 0, "type": "quantitative", "scale": {"domain": [0, 1]}, "axis": {"labels": false, "ticks": false, "grid": false, "domain": false, "title": "图 49：原盐价格走势", "titleAngle": 0, "titleX": 0, "titleY": -4, "titleAlign": "left", "titleBaseline": "bottom"}}}},
    {"width": 467, "height": 49, "data": {"values": [{}]}, "mark": {"type": "point", "opacity": 0},
     "encoding": {
       "x": {"datum": 0, "type": "quantitative", "scale": {"domain": [0, 1]}, "axis": {"orient": "top", "labels": false, "ticks": false, "grid": false, "domainColor": "#1f4e79", "domainWidth": 2.5, "title": "单位：元/吨", "titleX": 445, "titleY": -4, "titleAlign": "right", "titleBaseline": "bottom"}},
       "y": {"datum": 0, "type": "quantitative", "scale": {"domain": [0, 1]}, "axis": {"labels": false, "ticks": false, "grid": false, "domain": false, "title": "图 50：烧碱价格走势", "titleAngle": 0, "titleX": 0, "titleY": -4, "titleAlign": "left", "titleBaseline": "bottom"}}}},
    {"width": 458, "height": 225, "data": {"name": "p49"}, "mark": {"type": "line", "strokeWidth": 3.5, "strokeJoin": "round"},
     "encoding": {
       "x": {"field": "m", "type": "quantitative", "scale": {"domain": [0, 161.8], "range": [69, 441], "nice": false, "zero": false}, "axis": {"title": null, "offset": -108, "values": [0,10,20,30,40,50,60,70,80,90,100,110,120,130,140,150,160], "labelExpr": "(floor(datum.value/12)+7<10?'0':'')+(floor(datum.value/12)+7)+'/'+(datum.value%12+1)"}},
       "y": {"field": "v", "type": "quantitative", "scale": {"domain": [100, 450], "range": [117, 0], "nice": false, "zero": false}, "axis": {"title": null, "offset": -69, "values": [100,150,200,250,300,350,400,450], "format": ".2f"}},
       "color": {"datum": "原盐 河北出厂（元/吨）", "type": "nominal", "scale": {"range": ["#ff0000"]}, "legend": {"orient": "none", "legendX": 164, "legendY": -35}}}},
    {"width": 467, "height": 225, "data": {"name": "p50"}, "mark": {"type": "line", "strokeWidth": 3.5, "strokeJoin": "round"},
     "encoding": {
       "x": {"field": "m", "type": "quantitative", "scale": {"domain": [0, 161.8], "range": [78, 444], "nice": false, "zero": false}, "axis": {"title": null, "offset": -107, "values": [0,10,20,30,40,50,60,70,80,90,100,110,120,130,140,150,160], "labelExpr": "(floor(datum.value/12)+7<10?'0':'')+(floor(datum.value/12)+7)+'/'+(datum.value%12+1)"}},
       "y": {"field": "v", "type": "quantitative", "scale": {"domain": [200, 1600], "range": [118, 0], "nice": false, "zero": false}, "axis": {"title": null, "offset": -78, "values": [200,400,600,800,1000,1200,1400,1600], "format": ".2f"}},
       "color": {"datum": "烧碱 32%离子膜华东地区（元/吨）", "type": "nominal", "scale": {"range": ["#ff0000"]}, "legend": {"orient": "none", "legendX": 145, "legendY": -35}}}},
    {"width": 458, "height": 45, "data": {"values": [{}]}, "mark": {"type": "point", "opacity": 0},
     "encoding": {
       "x": {"datum": 0, "type": "quantitative", "scale": {"domain": [0, 1]}, "axis": {"orient": "top", "labels": false, "ticks": false, "grid": false, "domainColor": "#1f4e79", "domainWidth": 2.5, "title": "单位：元/吨", "titleX": 468, "titleY": -4, "titleAlign": "right", "titleBaseline": "bottom"}},
       "y": {"datum": 0, "type": "quantitative", "scale": {"domain": [0, 1]}, "axis": {"labels": false, "ticks": false, "grid": false, "domain": false, "title": "图 51：PVC 价格走势（电石法）", "titleAngle": 0, "titleX": 0, "titleY": -4, "titleAlign": "left", "titleBaseline": "bottom"}}}},
    {"width": 467, "height": 45, "data": {"values": [{}]}, "mark": {"type": "point", "opacity": 0},
     "encoding": {
       "x": {"datum": 0, "type": "quantitative", "scale": {"domain": [0, 1]}, "axis": {"orient": "top", "labels": false, "ticks": false, "grid": false, "domainColor": "#1f4e79", "domainWidth": 2.5, "title": "单位：元/吨", "titleX": 465, "titleY": -4, "titleAlign": "right", "titleBaseline": "bottom"}},
       "y": {"datum": 0, "type": "quantitative", "scale": {"domain": [0, 1]}, "axis": {"labels": false, "ticks": false, "grid": false, "domain": false, "title": "图 52：PVC 价格走势（乙烯法）", "titleAngle": 0, "titleX": 0, "titleY": -4, "titleAlign": "left", "titleBaseline": "bottom"}}}},
    {"width": 458, "height": 229, "data": {"name": "p51"}, "mark": {"type": "line", "strokeWidth": 3.5, "strokeJoin": "round"},
     "encoding": {
       "x": {"field": "m", "type": "quantitative", "scale": {"domain": [0, 171.9], "range": [86, 432], "nice": false, "zero": false}, "axis": {"title": null, "offset": -98, "values": [0,10,20,30,40,50,60,70,80,90,100,110,120,130,140,150,160,170], "labelExpr": "(floor(datum.value/12)+7<10?'0':'')+(floor(datum.value/12)+7)+'/'+(datum.value%12+1)"}},
       "y": {"field": "v", "type": "quantitative", "scale": {"domain": [4000, 10000], "range": [131, 0], "nice": false, "zero": false}, "axis": {"title": null, "offset": -86, "values": [4000,5000,6000,7000,8000,9000,10000], "format": ".2f"}},
       "color": {"datum": "PVC 华东电石法（元/吨）", "type": "nominal", "scale": {"range": ["#ff0000"]}, "legend": {"orient": "none", "legendX": 162, "legendY": -37}}}},
    {"width": 467, "height": 229, "data": {"name": "p52"}, "mark": {"type": "line", "strokeWidth": 3.5, "strokeJoin": "round"},
     "encoding": {
       "x": {"field": "m", "type": "quantitative", "scale": {"domain": [0, 172.5], "range": [89, 430], "nice": false, "zero": false}, "axis": {"title": null, "offset": -93, "values": [0,10,20,30,40,50,60,70,80,90,100,110,120,130,140,150,160,170], "labelExpr": "(floor(datum.value/12)+7<10?'0':'')+(floor(datum.value/12)+7)+'/'+(datum.value%12+1)"}},
       "y": {"field": "v", "type": "quantitative", "scale": {"domain": [5000, 11000], "range": [136, 12], "nice": false, "zero": false}, "axis": {"title": null, "offset": -89, "values": [5000,6000,7000,8000,9000,10000,11000], "format": ".2f"}},
       "color": {"datum": "PVC 华东乙烯法（元/吨）", "type": "nominal", "scale": {"range": ["#ff0000"]}, "legend": {"orient": "none", "legendX": 155, "legendY": -19}}}},
    {"width": 458, "height": 44, "data": {"values": [{}]}, "mark": {"type": "point", "opacity": 0},
     "encoding": {
       "x": {"datum": 0, "type": "quantitative", "scale": {"domain": [0, 1]}, "axis": {"orient": "top", "labels": false, "ticks": false, "grid": false, "domainColor": "#1f4e79", "domainWidth": 2.5, "title": "单位：美元/吨", "titleX": 433, "titleY": -4, "titleAlign": "right", "titleBaseline": "bottom"}},
       "y": {"datum": 0, "type": "quantitative", "scale": {"domain": [0, 1]}, "axis": {"labels": false, "ticks": false, "grid": false, "domain": false, "title": "图 53：EDC 价格走势", "titleAngle": 0, "titleX": 0, "titleY": -4, "titleAlign": "left", "titleBaseline": "bottom"}}}},
    {"width": 467, "height": 44, "data": {"values": [{}]}, "mark": {"type": "point", "opacity": 0},
     "encoding": {
       "x": {"datum": 0, "type": "quantitative", "scale": {"domain": [0, 1]}, "axis": {"orient": "top", "labels": false, "ticks": false, "grid": false, "domainColor": "#1f4e79", "domainWidth": 2.5, "title": "单位：美元/吨", "titleX": 439, "titleY": -4, "titleAlign": "right", "titleBaseline": "bottom"}},
       "y": {"datum": 0, "type": "quantitative", "scale": {"domain": [0, 1]}, "axis": {"labels": false, "ticks": false, "grid": false, "domain": false, "title": "图 54：VCM 价格走势", "titleAngle": 0, "titleX": 0, "titleY": -4, "titleAlign": "left", "titleBaseline": "bottom"}}}},
    {"width": 458, "height": 215, "data": {"name": "p53"}, "mark": {"type": "line", "strokeWidth": 3.5, "strokeJoin": "round"},
     "encoding": {
       "x": {"field": "m", "type": "quantitative", "scale": {"domain": [0, 161.7], "range": [69, 428], "nice": false, "zero": false}, "axis": {"title": null, "offset": -87, "values": [0,10,20,30,40,50,60,70,80,90,100,110,120,130,140,150,160], "labelExpr": "(floor(datum.value/12)+7<10?'0':'')+(floor(datum.value/12)+7)+'/'+(datum.value%12+1)"}},
       "y": {"field": "v", "type": "quantitative", "scale": {"domain": [0, 600], "range": [128, 0], "nice": false, "zero": false}, "axis": {"title": null, "offset": -69, "values": [0,100,200,300,400,500,600], "format": ".2f"}},
       "color": {"datum": "EDC CFR东南亚（美元/吨）", "type": "nominal", "scale": {"range": ["#ff0000"]}, "legend": {"orient": "none", "legendX": 161, "legendY": -39}}}},
    {"width": 467, "height": 215, "data": {"name": "p54"}, "mark": {"type": "line", "strokeWidth": 3.5, "strokeJoin": "round"},
     "encoding": {
       "x": {"field": "m", "type": "quantitative", "scale": {"domain": [0, 161.3], "range": [78, 432], "nice": false, "zero": false}, "axis": {"title": null, "offset": -87, "values": [0,10,20,30,40,50,60,70,80,90,100,110,120,130,140,150,160], "labelExpr": "(floor(datum.value/12)+7<10?'0':'')+(floor(datum.value/12)+7)+'/'+(datum.value%12+1)"}},
       "y": {"field": "v", "type": "quantitative", "scale": {"domain": [200, 1200], "range": [128, 5], "nice": false, "zero": false}, "axis": {"title": null, "offset": -78, "values": [200,400,600,800,1000,1200], "format": ".2f"}},
       "color": {"datum": "VCM CFR东南亚（美元/吨）", "type": "nominal", "scale": {"range": ["#ff0000"]}, "legend": {"orient": "none", "legendX": 155, "legendY": -29}}}},
    {"width": 458, "height": 48, "data": {"values": [{}]}, "mark": {"type": "point", "opacity": 0},
     "encoding": {
       "x": {"datum": 0, "type": "quantitative", "scale": {"domain": [0, 1]}, "axis": {"orient": "top", "labels": false, "ticks": false, "grid": false, "domainColor": "#1f4e79", "domainWidth": 2.5, "title": "单位：元/吨", "titleX": 425, "titleY": -4, "titleAlign": "right", "titleBaseline": "bottom"}},
       "y": {"datum": 0, "type": "quantitative", "scale": {"domain": [0, 1]}, "axis": {"labels": false, "ticks": false, "grid": false, "domain": false, "title": "图 55：电石价格走势", "titleAngle": 0, "titleX": 0, "titleY": -4, "titleAlign": "left", "titleBaseline": "bottom"}}}},
    {"width": 467, "height": 48, "data": {"values": [{}]}, "mark": {"type": "point", "opacity": 0},
     "encoding": {
       "x": {"datum": 0, "type": "quantitative", "scale": {"domain": [0, 1]}, "axis": {"orient": "top", "labels": false, "ticks": false, "grid": false, "domainColor": "#1f4e79", "domainWidth": 2.5, "title": "单位：元/吨", "titleX": 444, "titleY": -4, "titleAlign": "right", "titleBaseline": "bottom"}},
       "y": {"datum": 0, "type": "quantitative", "scale": {"domain": [0, 1]}, "axis": {"labels": false, "ticks": false, "grid": false, "domain": false, "title": "图 56：液氯价格走势", "titleAngle": 0, "titleX": 0, "titleY": -4, "titleAlign": "left", "titleBaseline": "bottom"}}}},
    {"width": 458, "height": 117, "data": {"name": "p55"}, "mark": {"type": "line", "strokeWidth": 3.5, "strokeJoin": "round"},
     "encoding": {
       "x": {"field": "m", "type": "quantitative", "scale": {"domain": [0, 172.1], "range": [77, 445], "nice": false, "zero": false}, "axis": {"title": null, "offset": 0, "values": [0,10,20,30,40,50,60,70,80,90,100,110,120,130,140,150,160,170], "labelExpr": "(floor(datum.value/12)+7<10?'0':'')+(floor(datum.value/12)+7)+'/'+(datum.value%12+1)"}},
       "y": {"field": "v", "type": "quantitative", "scale": {"domain": [2000, 6000], "range": [117, 0], "nice": false, "zero": false}, "axis": {"title": null, "offset": -77, "values": [2000,2500,3000,3500,4000,4500,5000,5500,6000], "format": ".2f"}},
       "color": {"datum": "电石 华东地区（元/吨）", "type": "nominal", "scale": {"range": ["#ff0000"]}, "legend": {"orient": "none", "legendX": 170, "legendY": -36}}}},
    {"width": 467, "height": 117, "data": {"name": "p56"}, "mark": {"type": "line", "strokeWidth": 3.5, "strokeJoin": "round"},
     "encoding": {
       "x": {"field": "m", "type": "quantitative", "scale": {"domain": [0, 171.9], "range": [78, 444], "nice": false, "zero": false}, "axis": {"title": null, "offset": 0, "values": [0,10,20,30,40,50,60,70,80,90,100,110,120,130,140,150,160,170], "labelExpr": "(floor(datum.value/12)+7<10?'0':'')+(floor(datum.value/12)+7)+'/'+(datum.value%12+1)"}},
       "y": {"field": "v", "type": "quantitative", "scale": {"domain": [0, 2500], "range": [117, 0], "nice": false, "zero": false}, "axis": {"title": null, "offset": -78, "values": [0,500,1000,1500,2000,2500], "format": ".2f"}},
       "color": {"datum": "液氯 华东地区（元/吨）", "type": "nominal", "scale": {"range": ["#ff0000"]}, "legend": {"orient": "none", "legendX": 165, "legendY": -31}}}}
  ],
  "config": {
    "view": {"stroke": null},
    "axis": {"titleFont": "Noto Sans CJK SC", "titleFontSize": 17.5, "titleFontWeight": "bold", "titleColor": "#000000"},
    "axisX": {"labelAngle": -45, "labelAlign": "right", "labelBaseline": "middle", "labelFont": "DejaVu Serif", "labelFontSize": 13, "labelColor": "#000000", "labelPadding": 3, "tickSize": 4, "tickColor": "#404040", "domainColor": "#404040", "grid": false, "labelFlush": false, "labelOverlap": false},
    "axisY": {"labelFont": "DejaVu Serif", "labelFontSize": 13, "labelColor": "#000000", "labelPadding": 18, "ticks": false, "domainColor": "#404040", "grid": true, "gridColor": "#7f7f7f", "gridDash": [1, 1], "gridWidth": 1, "labelFlush": false, "labelOverlap": false},
    "legend": {"title": null, "symbolType": "stroke", "symbolSize": 1300, "symbolStrokeWidth": 3, "labelFont": "Noto Sans CJK SC", "labelFontSize": 9.5, "labelColor": "#000000", "padding": 0, "labelOffset": 4}
  }
}
